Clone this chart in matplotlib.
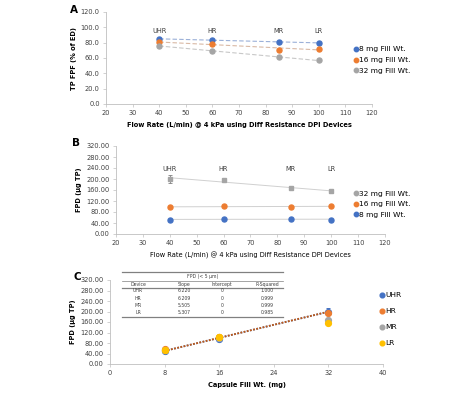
import numpy as np
import matplotlib
matplotlib.use('Agg')
import matplotlib.pyplot as plt
from matplotlib.lines import Line2D

# ── data ────────────────────────────────────────────────────────────
flow_rates = [40, 60, 85, 100]
devices    = ['UHR', 'HR', 'MR', 'LR']

fpf_8mg  = [84.5, 84.0, 81.0, 79.5]
fpf_16mg = [81.0, 78.0, 71.0, 72.0]
fpf_32mg = [76.0, 69.0, 61.0, 57.0]

fpd_8mg      = [51, 56, 55, 52]
fpd_16mg     = [97, 103, 98, 101]
fpd_32mg     = [200, 196, 168, 155]
fpd_32mg_err = [15, 5, 3, 6]

fill_wts = [8, 16, 32]

table_rows = [
    ['UHR', '6.220', '0', '1.000'],
    ['HR',  '6.209', '0', '0.999'],
    ['MR',  '5.505', '0', '0.999'],
    ['LR',  '5.307', '0', '0.985'],
]

BLUE, ORANGE, GREY, GOLD = '#4472C4', '#ED7D31', '#A5A5A5', '#FFC000'
W, H = 474, 397
FS = 4.8

plt.rcParams['font.family'] = ['DejaVu Sans']
plt.rcParams['font.size'] = FS


def add_ax(fig, left, right, top, bottom):
    return fig.add_axes([left / W, 1 - bottom / H, (right - left) / W, (bottom - top) / H])


def excel_style(ax):
    for s in ['top', 'right']:
        ax.spines[s].set_visible(False)
    for s in ['left', 'bottom']:
        ax.spines[s].set_color('#BFBFBF')
        ax.spines[s].set_linewidth(0.6)
    ax.tick_params(length=2.5, width=0.5, color='#BFBFBF', labelsize=FS,
                   labelcolor='#404040', pad=2)


def fig_legend(ax, handles, labels, x_px, y_px, spacing):
    ax.legend(handles, labels, loc='center left',
              bbox_to_anchor=(x_px / W, 1 - y_px / H), bbox_transform=fig.transFigure,
              frameon=False, handletextpad=0.1, handlelength=0.7,
              labelspacing=spacing, fontsize=FS + 0.6, borderpad=0, borderaxespad=0)


fig = plt.figure(figsize=(W / 100, H / 100), dpi=100)

# ── panel A ─────────────────────────────────────────────────────────
ax = add_ax(fig, 106, 372, 12, 104)
excel_style(ax)
for vals, col, tcol in [(fpf_8mg, BLUE, '#9BB0D8'),
                        (fpf_16mg, ORANGE, '#D9B9A5'),
                        (fpf_32mg, GREY, '#C8C8C8')]:
    k, b = np.polyfit(flow_rates, vals, 1)
    xs = np.array([flow_rates[0], flow_rates[-1]])
    ax.plot(xs, k * xs + b, ls=(0, (4, 2)), color=tcol, lw=0.8, zorder=1)
    ax.plot(flow_rates, vals, 'o', color=col, ms=3.6, zorder=3)
for x, d in zip(flow_rates, devices):
    ax.text(x, 95, d, ha='center', va='center', fontsize=FS, color='#404040')
ax.set_xlim(20, 120)
ax.set_ylim(0, 120)
ax.set_xticks(range(20, 121, 10))
ax.set_yticks(range(0, 121, 20))
ax.set_yticklabels([f'{v:.1f}' for v in range(0, 121, 20)])
ax.set_ylabel('TP FPF (% of ED)', fontsize=FS, fontweight='bold', labelpad=3)
ax.set_xlabel('Flow Rate (L/min) @ 4 kPa using Diff Resistance DPI Devices',
              fontsize=FS, fontweight='bold', labelpad=4)
handles = [Line2D([], [], marker='o', ls='', color=c, ms=3.2) for c in (BLUE, ORANGE, GREY)]
fig_legend(ax, handles, ['8 mg Fill Wt.', '16 mg Fill Wt.', '32 mg Fill Wt.'], 353, 60, 0.6)
fig.text(70 / W, 1 - 10 / H, 'A', fontsize=7.5, fontweight='bold', va='center')

# ── panel B ─────────────────────────────────────────────────────────
ax = add_ax(fig, 116, 385, 146, 234)
excel_style(ax)
for vals, col in [(fpd_32mg, GREY), (fpd_16mg, ORANGE), (fpd_8mg, BLUE)]:
    k, b = np.polyfit(flow_rates, vals, 1)
    xs = np.array([flow_rates[0], flow_rates[-1]])
    ax.plot(xs, k * xs + b, ls='-', color='#D0D0D0', lw=0.7, zorder=1)
    if vals is fpd_32mg:
        ax.errorbar(flow_rates, vals, yerr=fpd_32mg_err, fmt='s', color=GREY,
                    ms=3.0, ecolor='#808080', elinewidth=0.6, capsize=1.5,
                    capthick=0.6, zorder=3)
    else:
        ax.plot(flow_rates, vals, 'o', color=col, ms=3.6, zorder=3)
for x, d in zip(flow_rates, devices):
    ax.text(x, 236, d, ha='center', va='center', fontsize=FS, color='#404040')
ax.set_xlim(20, 120)
ax.set_ylim(0, 320)
ax.set_xticks(range(20, 121, 10))
ax.set_yticks(range(0, 321, 40))
ax.set_yticklabels([f'{v:.2f}' for v in range(0, 321, 40)])
ax.set_ylabel('FPD (µg TP)', fontsize=FS, fontweight='bold', labelpad=3)
ax.set_xlabel('Flow Rate (L/min) @ 4 kPa using Diff Resistance DPI Devices',
              fontsize=FS, labelpad=4)
handles = [Line2D([], [], marker='o', ls='', color=c, ms=3.2) for c in (GREY, ORANGE, BLUE)]
fig_legend(ax, handles, ['32 mg Fill Wt.', '16 mg Fill Wt.', '8 mg Fill Wt.'], 353, 204, 0.55)
fig.text(72 / W, 1 - 143 / H, 'B', fontsize=7.5, fontweight='bold', va='center')

# ── panel C ─────────────────────────────────────────────────────────
ax = add_ax(fig, 110, 383, 280, 364)
excel_style(ax)
fpd_by_device = {
    'UHR': [fpd_8mg[0], fpd_16mg[0], fpd_32mg[0]],
    'HR':  [fpd_8mg[1], fpd_16mg[1], fpd_32mg[1]],
    'MR':  [fpd_8mg[2], fpd_16mg[2], fpd_32mg[2]],
    'LR':  [fpd_8mg[3], fpd_16mg[3], fpd_32mg[3]],
}
colors_c = {'UHR': BLUE, 'HR': ORANGE, 'MR': GREY, 'LR': GOLD}
xw = np.array(fill_wts, dtype=float)
for d in ['UHR', 'HR']:
    y = np.array(fpd_by_device[d], dtype=float)
    slope = (xw * y).sum() / (xw ** 2).sum()
    xs = np.array([fill_wts[0], fill_wts[-1]])
    ax.plot(xs, slope * xs, ls=(0, (1, 0.8)), lw=1.3,
            color='#C55A11' if d == 'HR' else BLUE, zorder=2)
ax.errorbar([32], [fpd_32mg[0]], yerr=[fpd_32mg_err[0]], fmt='none', ecolor=BLUE,
            elinewidth=0.7, capsize=1.5, capthick=0.7, zorder=2)
for d in devices:
    ax.plot(fill_wts, fpd_by_device[d], 'o', color=colors_c[d], ms=4.2, zorder=3)
# yellow dominates at the low fill weights in the reference
ax.plot(fill_wts[:2], fpd_by_device['LR'][:2], 'o', color=GOLD, ms=4.2, zorder=4)
ax.set_xlim(0, 40)
ax.set_ylim(0, 320)
ax.set_xticks(range(0, 41, 8))
ax.set_yticks(range(0, 321, 40))
ax.set_yticklabels([f'{v:.2f}' for v in range(0, 321, 40)])
ax.set_ylabel('FPD (µg TP)', fontsize=FS, fontweight='bold', labelpad=3)
ax.set_xlabel('Capsule Fill Wt. (mg)', fontsize=FS, fontweight='bold', labelpad=4)
handles = [Line2D([], [], marker='o', ls='', color=colors_c[d], ms=3.4) for d in devices]
fig_legend(ax, handles, devices, 379, 319, 1.3)
fig.text(73 / W, 1 - 277 / H, 'C', fontsize=7.5, fontweight='bold', va='center')

# inset table
tfs = 3.3
tx0, tx1 = 122 / W, 283 / W
for yy, lw in [(272, 0.9), (281, 0.5), (288, 0.9), (317, 0.9)]:
    fig.add_artist(Line2D([tx0, tx1], [1 - yy / H] * 2, color='#808080', lw=lw))
fig.text((tx0 + tx1) / 2, 1 - 276.5 / H, 'FPD (< 5 µm)', fontsize=tfs,
         ha='center', va='center', color='#404040')
col_x = [138, 184, 222, 267]
for cx, head in zip(col_x, ['Device', 'Slope', 'Intercept', 'R-Squared']):
    fig.text(cx / W, 1 - 284.5 / H, head, fontsize=tfs, ha='center', va='center',
             color='#404040')
for ry, row in zip([291, 298.5, 305.5, 312], table_rows):
    for cx, cell in zip(col_x, row):
        fig.text(cx / W, 1 - ry / H, cell, fontsize=tfs, ha='center', va='center',
                 color='#404040')

plt.savefig('out.png', dpi=100)
